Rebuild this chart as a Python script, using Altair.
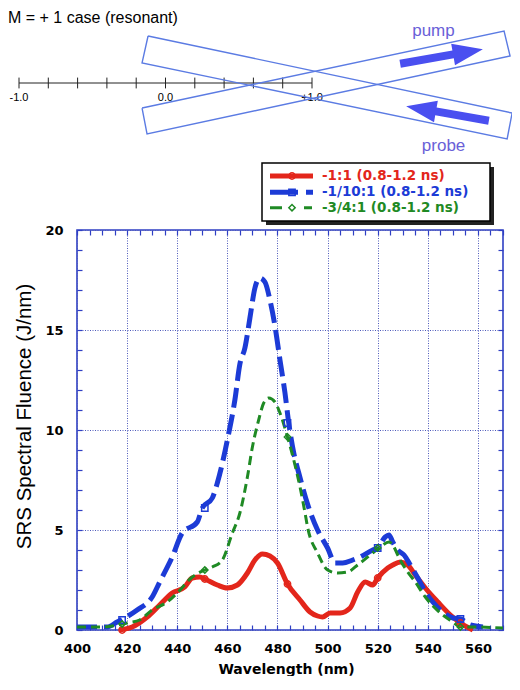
import altair as alt
import pandas as pd

# ---------------- data ----------------
red_x = [417, 422, 428, 433, 438, 443, 446, 449, 451, 456, 460, 464, 468, 471, 474,
         477, 480, 484, 489, 493, 496, 498, 501, 505, 509, 512, 515, 518, 520, 524,
         526, 529, 532, 535, 539, 544, 549, 553, 558]
red_y = [0, 0.15, 0.65, 1.25, 1.85, 2.15, 2.6, 2.65, 2.55, 2.25, 2.1, 2.25, 2.85, 3.5, 3.8,
         3.7, 3.35, 2.3, 1.5, 0.9, 0.7, 0.65, 0.85, 0.85, 1.1, 1.9, 2.4, 2.25, 2.6, 3.1,
         3.25, 3.4, 3.25, 2.75, 2.1, 1.4, 0.75, 0.35, 0.0]

blue_x = [400, 405, 412, 416, 419, 424, 430, 433, 438, 442, 448, 450, 454, 456, 460,
          463, 465, 467, 469, 471, 473, 475, 477, 479, 481, 483, 484.5, 486.5, 488.5, 492,
          496, 500, 503, 506, 510, 513, 518, 520, 523, 524.5, 526, 528, 530.5, 533, 536,
          539, 542, 546, 550, 553, 557, 562]
blue_y = [0.15, 0.15, 0.15, 0.4, 0.6, 1.0, 1.65, 2.4, 3.65, 4.85, 5.4, 6.1, 6.6, 7.35, 9.5,
          11.5, 13.3, 14.1, 15.6, 17.1, 17.6, 17.4, 16.5, 15.2, 13.5, 11.85, 10.35, 8.85, 7.85, 6.3,
          5.0, 4.1, 3.35, 3.35, 3.5, 3.65, 4.0, 4.1, 4.65, 4.75, 4.4, 4.0, 3.75, 3.25, 2.6,
          1.9, 1.4, 0.9, 0.6, 0.55, 0.25, 0.15]

green_x = [400, 410, 414, 416.5, 420, 425, 430, 436, 440, 446, 451, 454, 458, 462, 465,
           468, 470, 472.5, 474.5, 476.5, 479, 481, 484, 486.5, 489, 491, 492, 496, 500, 504,
           508, 512, 517, 521, 524.5, 526.5, 528, 529, 532, 535, 539, 545, 550, 553, 558, 570]
green_y = [0.15, 0.15, 0.2, 0.25, 0.35, 0.5, 1.0, 1.4, 1.85, 2.65, 3.0, 3.15, 3.5, 4.85, 5.85,
           7.65, 9.15, 10.5, 11.35, 11.6, 11.4, 10.85, 9.65, 8.5, 7.15, 5.85, 5.15, 3.85, 3.0, 2.85,
           2.9, 3.25, 3.75, 4.15, 4.4, 4.15, 3.75, 3.5, 2.9, 2.4, 1.65, 0.85, 0.4, 0.15, 0.15, 0.1]

marker_x = [418, 451, 484, 520, 553]
red_my = [0.0, 2.55, 2.3, 2.6, 0.35]
blue_my = [0.5, 6.1, 10.35, 4.1, 0.55]
green_my = [0.3, 3.0, 9.65, 4.1, 0.15]

series_labels = ["-1:1 (0.8-1.2 ns)", "-1/10:1 (0.8-1.2 ns)", "-3/4:1 (0.8-1.2 ns)"]

x_major = [400, 420, 440, 460, 480, 500, 520, 540, 560]
y_major = [0, 5, 10, 15, 20]
x_minor = list(range(400, 571, 5))
y_minor = list(range(0, 21))

# diagram (position along the interaction region)
line_ticks = [-1.0, -0.8, -0.6, -0.4, -0.2, 0.0, 0.2, 0.4, 0.6, 0.8, 1.0]
line_label_pos = [-1.0, 0.0, 1.0]
line_label_txt = ["-1.0", "0.0", "+1.0"]
pump_u = [-0.160, -0.126, 2.352, 2.311, -0.160]
pump_v = [-0.171, -0.348, 0.184, 0.355, -0.171]
probe_u = [-0.119, -0.160, 2.332, 2.366, -0.119]
probe_v = [0.321, 0.137, -0.382, -0.205, 0.321]
arrow_u = [1.884, 1.925]
arrow_v = [0.181, -0.208]
arrow_ang = [350, 190]
beam_names = ["pump", "probe"]
beam_label_u = [1.829, 1.898]
beam_label_v = [0.321, -0.464]
case_title = "M = + 1 case (resonant)"

# ---------------- styles ----------------
FONT = "Liberation Sans"
BFONT = "DejaVu Sans"
RED, BLUE, GREEN = "#e3261b", "#1c3bd6", "#1f8a24"
FRAME = "#2f3fc4"
GRID = "#4f5abb"
BEAM = "#5b7be3"
ARROW = "#4a4ff0"
LABEL = "#6a5fd8"
W, H = 426, 400

XS = alt.Scale(domain=[400, 570], nice=False, zero=False)
YS = alt.Scale(domain=[0, 20], nice=False, zero=False)
DXS = alt.Scale(domain=[-1, 1], range=[-58, 235], nice=False, zero=False)
DYS = alt.Scale(domain=[-0.5, 0.5], range=[-73.75, -220.25], nice=False, zero=False)


def curve(xs, ys, color, width, dash=None, xa=None, ya=None):
    df = pd.DataFrame({"w": xs, "f": ys})
    kw = dict(color=color, strokeWidth=width, interpolate="monotone", strokeJoin="round")
    if dash:
        kw["strokeDash"] = dash
    return alt.Chart(df).mark_line(**kw).encode(
        x=alt.X("w:Q", scale=XS, axis=xa),
        y=alt.Y("f:Q", scale=YS, axis=ya),
    )


def markers(xs, ys, color, shape):
    df = pd.DataFrame({"w": xs, "f": ys})
    return alt.Chart(df).mark_point(shape=shape, color=color, filled=False, size=40,
                                    strokeWidth=1.5, opacity=1).encode(
        x=alt.X("w:Q", scale=XS, axis=None),
        y=alt.Y("f:Q", scale=YS, axis=None),
    )


x_axis_main = alt.Axis(values=x_major, orient="bottom", title="Wavelength  (nm)", format="d",
                       grid=True, gridColor=GRID, gridDash=[1, 1.5], gridWidth=1,
                       ticks=False, domain=False, labelFlush=False, labelOverlap=False,
                       labelFont=BFONT, labelFontWeight="bold", labelFontSize=13,
                       labelColor="black", labelPadding=12,
                       titleFont=BFONT, titleFontWeight="bold", titleFontSize=14,
                       titleColor="black", titleX=209, titleY=43,
                       titleAlign="center", titleBaseline="alphabetic")
y_axis_main = alt.Axis(values=y_major, orient="left", title="SRS Spectral Fluence (J/nm)",
                       format="d", grid=True, gridColor=GRID, gridDash=[1, 1.5], gridWidth=1,
                       ticks=False, domain=False, labelFlush=False, labelOverlap=False,
                       labelFont=BFONT, labelFontWeight="bold", labelFontSize=13,
                       labelColor="black", labelPadding=14,
                       titleFont=FONT, titleFontWeight="normal", titleFontSize=20.5,
                       titleColor="black", titleAngle=270, titleX=-53, titleY=186,
                       titleAlign="center", titleBaseline="middle")


def tick_axis(orient, vals, offset):
    return alt.Axis(orient=orient, values=vals, offset=offset, tickSize=5, tickColor=FRAME,
                    tickWidth=1.2, labels=False, domain=False, grid=False, title=None)


carrier = pd.DataFrame({"w": [400], "f": [0]})


def tick_layer(xa=None, ya=None):
    return alt.Chart(carrier).mark_point(opacity=0).encode(
        x=alt.X("w:Q", scale=XS, axis=xa), y=alt.Y("f:Q", scale=YS, axis=ya))


layers = [
    curve(red_x, red_y, RED, 5, None, x_axis_main, y_axis_main),
    curve(blue_x, blue_y, BLUE, 5, [20, 7]),
    curve(green_x, green_y, GREEN, 3, [9, 5]),
    markers(marker_x, red_my, RED, "circle"),
    markers(marker_x, blue_my, BLUE, "square"),
    markers(marker_x, green_my, GREEN, "diamond"),
    tick_layer(xa=tick_axis("top", x_minor, -H)),
    tick_layer(xa=tick_axis("bottom", x_minor, -H)),
    tick_layer(ya=tick_axis("right", y_minor, -W)),
    tick_layer(ya=tick_axis("left", y_minor, -W)),
]

# ---------------- legend (box above the plot) ----------------
one = pd.DataFrame({"a": [0]})
layers.append(alt.Chart(one).mark_rect(color="#222222").encode(
    x=alt.value(189), x2=alt.value(417), y=alt.value(-63), y2=alt.value(-5)))
layers.append(alt.Chart(one).mark_rect(fill="white", stroke="black", strokeWidth=1.5).encode(
    x=alt.value(185), x2=alt.value(413), y=alt.value(-67), y2=alt.value(-9)))
leg_rows = [-54, -37.7, -22.3]
leg_styles = [(RED, 5, None, "circle"), (BLUE, 5, [28, 8, 7, 100], "square"),
              (GREEN, 3, [12, 22, 8, 4, 8], "diamond")]
for lab, ry, (col, sw, dash, shp) in zip(series_labels, leg_rows, leg_styles):
    kw = dict(color=col, strokeWidth=sw)
    if dash:
        kw["strokeDash"] = dash
    layers.append(alt.Chart(one).mark_rule(**kw).encode(
        x=alt.value(193), x2=alt.value(236), y=alt.value(ry)))
    layers.append(alt.Chart(one).mark_point(shape=shp, color=col, filled=False, size=40,
                                            strokeWidth=1.5, opacity=1).encode(
        x=alt.value(215), y=alt.value(ry)))
    layers.append(alt.Chart(pd.DataFrame({"t": [lab]})).mark_text(
        align="left", baseline="middle", font=BFONT, fontWeight="bold", fontSize=13.5,
        color=col).encode(x=alt.value(245), y=alt.value(ry), text="t:N"))

# ---------------- diagram ----------------
def dx(field):
    return alt.X(field, scale=DXS, axis=None)


def dy(field):
    return alt.Y(field, scale=DYS, axis=None)


beams = pd.DataFrame({
    "beam": ["pump"] * len(pump_u) + ["probe"] * len(probe_u),
    "i": list(range(len(pump_u))) + list(range(len(probe_u))),
    "u": pump_u + probe_u,
    "v": pump_v + probe_v,
})

layers.append(alt.Chart(pd.DataFrame({"u": line_label_pos, "t": line_label_txt,
                                      "v": [-0.125] * 3}))
              .mark_text(font=FONT, fontSize=11, color="black", align="center",
                         baseline="alphabetic").encode(
    x=dx("u:Q"), y=dy("v:Q"), text="t:N"))
layers.append(alt.Chart(pd.DataFrame({"u": [line_ticks[0]], "u2": [line_ticks[-1]], "v": [0]}))
              .mark_rule(color="#222222", strokeWidth=1).encode(
    x=dx("u:Q"), x2="u2:Q", y=dy("v:Q")))
TH = 0.037
layers.append(alt.Chart(pd.DataFrame({"u": line_ticks, "lo": [-TH] * len(line_ticks),
                                      "hi": [TH] * len(line_ticks)}))
              .mark_rule(color="#222222", strokeWidth=1).encode(
    x=dx("u:Q"), y=dy("lo:Q"), y2="hi:Q"))
layers.append(alt.Chart(beams).mark_line(color=BEAM, strokeWidth=1.4).encode(
    x=dx("u:Q"), y=dy("v:Q"), detail="beam:N", order="i:Q"))

ARROW_PATH = ("M -1 -0.095 L 0.28 -0.095 L 0.28 -0.26 L 1 0 L 0.28 0.26 "
              "L 0.28 0.095 L -1 0.095 Z")
layers.append(alt.Chart(pd.DataFrame({"u": arrow_u, "v": arrow_v, "a": arrow_ang}))
              .mark_point(shape=ARROW_PATH, filled=True, color=ARROW, size=7056,
                          opacity=1, strokeWidth=0).encode(
    x=dx("u:Q"), y=dy("v:Q"), angle=alt.Angle("a:Q", scale=None)))
layers.append(alt.Chart(pd.DataFrame({"u": beam_label_u, "v": beam_label_v, "t": beam_names}))
              .mark_text(font=FONT, fontSize=17, color=LABEL, align="center",
                         baseline="alphabetic").encode(
    x=dx("u:Q"), y=dy("v:Q"), text="t:N"))
layers.append(alt.Chart(pd.DataFrame({"u": [-1.075], "v": [0.41], "t": [case_title]}))
              .mark_text(font=FONT, fontSize=16, color="black", align="left",
                         baseline="alphabetic").encode(
    x=dx("u:Q"), y=dy("v:Q"), text="t:N"))

chart = alt.layer(*layers).resolve_scale(x="independent", y="independent").properties(
    width=W, height=H,
    autosize=alt.AutoSizeParams(type="none"),
    padding={"left": 69, "top": 222, "right": 9, "bottom": 46},
    background="white",
).configure_view(stroke=FRAME, strokeWidth=1.6)

chart.save("out.html", embed_options={"renderer": "svg", "actions": False})
